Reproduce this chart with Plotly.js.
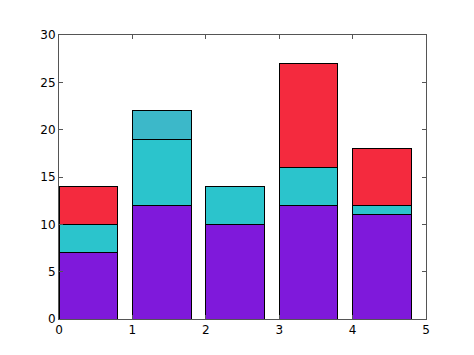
<!DOCTYPE html>
<html>
<head>
<meta charset="utf-8">
<script src="https://cdn.plot.ly/plotly-3.0.1.min.js"></script>
<style>html,body{margin:0;padding:0;background:#fff;}#chart{width:474px;height:355px;}</style>
</head>
<body>
<div id="chart"></div>
<script>
var positions = [0, 1, 2, 3, 4];
var bottomVals = [7, 12, 10, 12, 11];
var middleVals = [3, 7, 4, 4, 1];
var topVals = [4, 3, 0, 11, 6];
var topColors = ['#f42a3e', '#3cb8c9', '#f42a3e', '#f42a3e', '#f42a3e'];
var xTicks = [0, 1, 2, 3, 4, 5];
var yTicks = [0, 5, 10, 15, 20, 25, 30];

function barTrace(vals, color) {
  return {
    type: 'bar', x: positions, y: vals, width: 0.8, offset: 0,
    marker: {color: color, line: {color: '#000', width: 1}},
    hoverinfo: 'skip'
  };
}
var data = [
  barTrace(bottomVals, '#7f19db'),
  barTrace(middleVals, '#2bc4cc'),
  barTrace(topVals, topColors)
];
var axisCommon = {
  showgrid: false, zeroline: false, showline: true, linecolor: '#555', linewidth: 1,
  mirror: 'ticks', ticks: 'inside', ticklen: 4, tickcolor: '#555',
  tickfont: {family: 'DejaVu Sans', size: 12, color: '#000'}, fixedrange: true
};
var layout = {
  width: 474, height: 355,
  margin: {l: 59, r: 48, t: 35, b: 36},
  barmode: 'stack', showlegend: false,
  paper_bgcolor: '#fff', plot_bgcolor: '#fff',
  xaxis: Object.assign({}, axisCommon, {range: [0, 5], tickvals: xTicks, ticktext: xTicks.map(String)}),
  yaxis: Object.assign({}, axisCommon, {range: [0, 30], tickvals: yTicks, ticktext: yTicks.map(String)})
};
Plotly.newPlot('chart', data, layout, {staticPlot: true});
</script>
</body>
</html>
